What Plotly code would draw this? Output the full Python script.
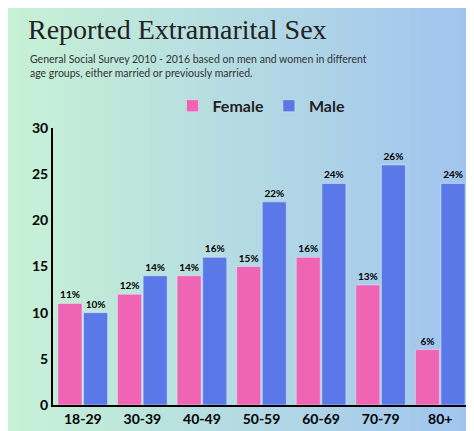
import plotly.graph_objects as go

age_groups = ["18-29", "30-39", "40-49", "50-59", "60-69", "70-79", "80+"]
female = [11, 12, 14, 15, 16, 13, 6]
male = [10, 14, 16, 22, 24, 26, 24]

W, H = 474, 431
ml, mr, mt, mb = 45, 12, 120, 30

fig = go.Figure()
fig.add_trace(go.Bar(x=age_groups, y=female, name="Female", marker_color="#f064b4",
                     text=[str(v) + "%" for v in female], textposition="outside", cliponaxis=False,
                     textfont=dict(size=10, color="black", family="Lato", weight="bold")))
fig.add_trace(go.Bar(x=age_groups, y=male, name="Male", marker_color="#5b78e8",
                     text=[str(v) + "%" for v in male], textposition="outside", cliponaxis=False,
                     textfont=dict(size=10, color="black", family="Lato", weight="bold")))

# gradient background strips, mint on the left to light blue on the right
pw = W - ml - mr
ph = H - mt - mb
x_start = -ml / pw
x_end = 1 + mr / pw
n = 40
c0 = (200, 242, 214)
c1 = (160, 196, 240)
for i in range(n):
    t = i / (n - 1)
    c = tuple(int(c0[k] + (c1[k] - c0[k]) * t) for k in range(3))
    fig.add_shape(type="rect", xref="paper", yref="paper", layer="below", line_width=0,
                  x0=x_start + (x_end - x_start) * i / n,
                  x1=x_start + (x_end - x_start) * (i + 1) / n + 0.002,
                  y0=-mb / ph - 0.01, y1=1 + mt / ph + 0.01,
                  fillcolor="rgb(%d,%d,%d)" % c)

fig.add_annotation(text="Reported Extramarital Sex", xref="paper", yref="paper",
                   x=-0.065, y=1 + (mt - 20) / ph, xanchor="left", yanchor="middle",
                   showarrow=False, font=dict(size=28, family="Liberation Serif", color="#222"))
fig.add_annotation(text="General Social Survey 2010 - 2016 based on men and women in different<br>age groups, either married or previously married.",
                   xref="paper", yref="paper", x=-0.06, y=1 + (mt - 57) / ph,
                   xanchor="left", yanchor="middle", align="left", showarrow=False,
                   font=dict(size=10.5, family="Lato", color="#333"))

fig.update_layout(
    width=W, height=H,
    margin=dict(l=ml, r=mr, t=mt, b=mb),
    paper_bgcolor="rgba(0,0,0,0)", plot_bgcolor="rgba(0,0,0,0)",
    barmode="group", bargap=0.14, bargroupgap=0.06,
    showlegend=True,
    legend=dict(orientation="h", x=0.5, xanchor="center", y=1.08, yanchor="middle",
                font=dict(size=16, family="Lato", color="#222", weight="bold"),
                bgcolor="rgba(0,0,0,0)"),
    xaxis=dict(showline=True, linecolor="black", linewidth=2, ticks="",
               tickfont=dict(size=14, family="Lato", color="black", weight="bold")),
    yaxis=dict(range=[0, 30], dtick=5, showgrid=False, zeroline=False,
               showline=True, linecolor="black", linewidth=2,
               tickfont=dict(size=14, family="Lato", color="black", weight="bold")),
)

fig.write_html("out.html")
